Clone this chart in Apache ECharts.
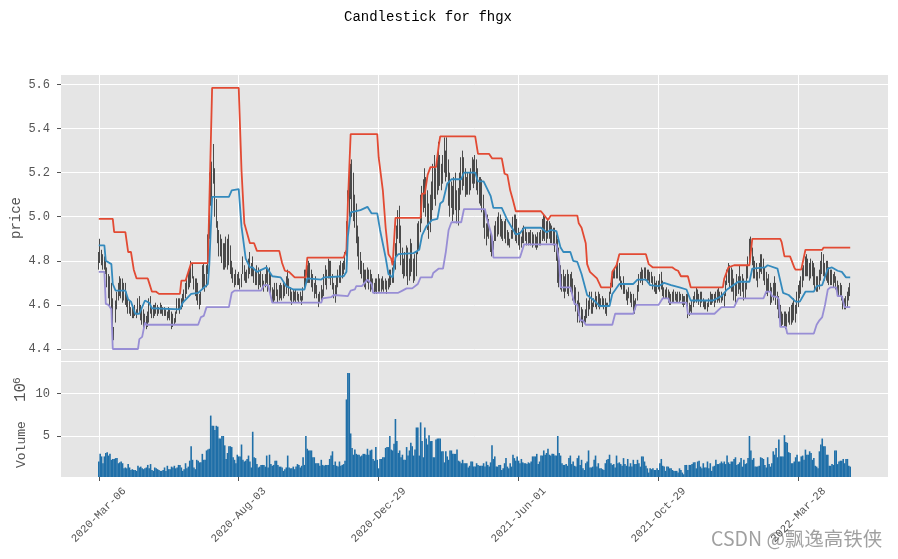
<!DOCTYPE html>
<html>
<head>
<meta charset="utf-8">
<style>html,body{margin:0;padding:0;background:#fff}#chart{width:898px;height:559px}</style>
<script src="https://cdn.jsdelivr.net/npm/echarts@6/dist/echarts.min.js"></script>
</head>
<body>
<div id="chart"></div>
<script>
// tick labels, one every 100 bars
const tickLabels = ['2020-Mar-06', '2020-Aug-03', '2020-Dec-29', '2021-Jun-01', '2021-Oct-29', '2022-Mar-28']
const priceTicks = [4.4, 4.6, 4.8, 5.0, 5.2, 5.4, 5.6]
const volumeTicks = [5, 10]

// prices in cents, volume in units of 1e5, one entry per bar
const opens = [
  478,485,482,478,480,480,475,470,465,468,458,446,454,462,464,470,467,464,468,464,
  463,461,457,458,457,456,458,456,458,462,459,455,452,453,450,452,454,462,457,458,
  456,459,457,458,457,459,456,458,456,454,458,455,455,451,453,453,458,462,457,461,
  460,463,465,470,468,474,472,476,470,468,468,463,464,461,470,476,468,470,476,492,
  510,522,520,518,505,496,490,484,488,481,480,488,478,490,480,477,472,470,474,470,
  470,470,472,476,476,472,474,474,482,476,475,474,471,476,469,472,469,472,469,472,
  474,475,476,468,465,462,469,465,466,463,468,464,469,465,467,474,470,464,465,462,
  463,466,463,464,462,463,464,470,470,476,472,477,470,472,466,471,465,463,462,467,
  464,466,472,474,474,478,471,472,466,463,466,474,472,478,474,477,480,484,498,506,
  510,522,516,506,502,494,490,476,478,472,474,469,475,469,474,470,470,467,470,467,
  468,470,468,471,468,470,467,470,470,475,472,472,480,486,492,502,490,484,476,482,
  475,483,473,488,477,479,473,481,485,496,496,510,504,520,506,508,492,507,500,508,
  512,520,512,516,526,515,526,522,528,520,524,502,514,502,516,505,510,498,505,524,
  528,516,520,512,518,512,520,517,525,517,524,512,516,507,515,498,500,490,499,492,
  492,484,487,491,496,492,499,493,497,491,496,490,492,488,489,491,498,494,499,490,
  489,491,488,493,490,493,489,491,489,493,487,490,488,490,487,491,488,497,491,498,
  490,497,491,495,489,493,486,490,484,480,476,468,474,465,472,466,472,467,473,466,
  467,460,460,457,460,453,456,453,456,455,458,460,464,457,462,460,463,461,464,460,
  460,462,458,459,460,463,467,469,473,475,474,477,473,471,468,471,467,463,465,464,
  465,460,464,458,460,464,472,471,476,470,475,473,474,472,473,471,472,467,469,466,
  468,470,473,466,467,464,467,463,465,462,465,463,465,462,464,465,463,464,460,463,
  461,464,457,460,458,462,463,467,463,464,461,465,462,459,461,458,462,461,464,462,
  461,465,463,466,462,465,463,461,469,471,477,469,475,474,469,463,466,471,469,472,
  472,464,469,469,474,481,488,480,476,478,473,474,474,481,476,479,471,473,466,472,
  468,462,468,466,468,460,462,457,451,454,452,455,451,455,453,458,453,460,454,458,
  461,469,467,475,473,480,475,480,473,479,475,477,469,471,468,474,473,481,475,478,
  473,478,471,475,470,473,471,471,466,468,465,468,460,462,459,464,464,469
]
const closes = [
  480,482,479,480,477,475,470,465,462,456,448,449,459,465,469,466,465,468,464,462,
  460,457,459,456,455,458,456,457,462,458,455,452,451,450,452,456,461,458,456,456,
  458,457,459,457,460,457,458,456,457,456,456,456,451,454,452,456,462,459,461,459,
  464,465,469,467,474,471,477,473,467,466,463,465,460,465,476,470,472,476,490,516,
  528,505,525,503,497,490,484,490,481,483,487,479,486,481,476,473,474,473,470,473,
  474,468,469,481,472,474,471,480,476,474,480,471,474,470,474,470,474,469,471,469,
  476,468,471,465,462,466,464,469,462,468,464,468,464,468,472,469,466,466,462,466,
  465,462,465,462,465,461,467,475,475,471,478,472,475,467,469,467,463,461,465,464,
  466,472,477,470,480,473,478,468,464,468,472,470,477,473,478,482,478,496,510,522,
  520,504,500,497,490,485,478,482,474,477,469,474,471,474,468,473,468,470,467,471,
  472,467,471,468,471,468,470,468,475,470,476,478,486,494,501,492,480,476,480,476,
  485,471,479,475,485,472,481,475,495,488,508,500,515,506,516,496,504,496,514,520,
  524,507,524,526,516,522,517,534,518,532,507,518,506,512,503,518,499,511,518,512,
  515,525,511,516,512,518,514,525,515,526,514,520,508,515,504,506,492,495,493,497,
  486,490,494,495,491,498,494,499,492,496,491,497,489,492,487,493,492,500,491,496,
  493,487,491,489,494,490,492,488,492,488,491,488,491,486,492,488,493,490,499,491,
  496,491,496,490,494,488,492,482,472,470,469,473,467,471,467,474,466,473,467,470,
  462,465,454,463,454,458,452,457,454,462,461,465,458,460,460,464,459,465,459,462,
  463,459,462,457,460,465,469,472,475,473,477,473,478,469,470,467,465,466,462,467,
  461,464,458,461,462,468,468,474,471,475,473,476,471,475,470,474,468,471,466,470,
  470,473,468,469,464,466,464,465,461,464,462,466,463,464,462,462,464,461,463,461,
  464,456,460,458,461,460,465,463,466,461,465,462,459,461,458,460,460,465,461,464,
  464,462,467,462,465,462,468,469,466,475,471,476,467,467,463,469,473,466,477,466,
  467,470,464,476,480,488,484,484,479,473,477,470,478,477,481,473,475,466,471,468,
  462,467,463,472,461,464,455,453,455,452,456,450,456,453,458,452,459,454,459,464,
  467,465,473,470,477,475,482,474,478,473,479,471,475,467,473,469,479,476,481,472,
  478,472,476,470,474,469,474,467,470,465,469,463,462,459,463,460,468,466
]
const lows = [
  476,479,478,476,476,474,468,463,459,453,447,444,452,458,462,464,463,461,462,460,
  459,456,456,455,454,454,455,454,456,456,453,451,449,450,449,450,452,456,454,454,
  455,456,455,456,456,456,455,455,455,453,454,453,449,450,451,452,456,458,456,458,
  459,461,463,465,467,468,470,472,467,464,462,460,458,460,467,468,466,468,474,490,
  505,500,515,500,495,488,482,482,479,476,476,477,476,478,474,472,470,468,469,469,
  469,467,468,474,471,470,470,472,474,473,473,470,469,469,467,469,468,468,466,468,
  470,466,469,464,461,461,462,464,461,462,463,462,463,464,465,468,464,462,460,461,
  462,461,462,461,462,460,462,468,468,470,470,470,468,466,463,465,463,459,461,462,
  463,464,469,467,472,472,469,467,463,461,464,468,470,470,472,474,476,482,495,500,
  508,500,498,495,488,482,476,474,472,470,468,467,470,467,466,467,466,465,466,465,
  466,466,466,467,466,467,465,467,468,469,470,470,476,482,490,488,478,474,472,473,
  473,469,471,473,475,470,471,473,483,485,493,497,502,504,500,494,490,493,498,503,
  508,505,510,512,514,512,515,520,516,518,505,500,504,498,501,503,497,496,503,510,
  512,514,509,510,510,510,512,515,513,515,512,510,506,505,502,495,490,487,491,490,
  484,482,485,489,489,491,492,491,490,489,490,488,487,487,486,490,490,492,489,488,
  487,485,486,488,488,489,487,487,488,487,486,487,486,485,486,487,487,489,490,489,
  488,490,490,488,488,487,484,480,470,468,467,466,466,463,466,465,464,466,465,462,
  460,457,452,455,452,452,450,452,452,454,455,458,456,456,459,459,458,459,458,459,
  459,458,456,455,459,461,465,468,472,472,472,472,471,468,467,465,465,462,460,463,
  461,459,457,456,458,462,466,470,471,469,472,471,470,471,469,470,467,466,465,465,
  467,466,467,464,463,463,463,461,460,460,461,461,462,461,461,461,462,460,459,460,
  460,454,455,457,456,459,461,461,462,460,459,461,459,458,458,457,459,460,460,461,
  459,461,461,462,461,461,462,459,464,469,470,468,466,466,462,461,464,465,467,464,
  466,462,463,467,472,479,482,478,472,472,471,468,472,475,474,471,469,465,464,466,
  460,461,462,464,460,458,454,452,450,451,450,449,450,452,451,451,452,453,452,456,
  459,463,465,468,471,473,473,473,471,472,473,469,467,466,466,467,471,474,473,471,
  471,470,469,469,469,468,470,467,465,464,464,462,458,458,458,459,462,464
]
const highs = [
  484,490,485,483,482,483,477,474,473,470,463,450,462,466,470,473,472,472,470,470,
  466,464,462,459,459,459,460,458,463,464,460,458,458,456,455,457,463,464,459,460,
  460,461,460,459,461,460,459,459,458,457,459,458,457,456,454,457,463,463,463,463,
  465,467,470,472,476,477,480,479,473,472,472,470,465,466,478,479,474,478,492,520,
  535,525,533,522,508,498,494,492,490,488,488,491,490,492,487,480,477,474,476,474,
  475,472,474,482,478,475,476,481,484,479,482,477,476,478,477,474,476,474,471,474,
  478,476,477,474,468,467,470,470,467,469,470,469,470,469,473,476,472,468,466,467,
  466,467,466,465,466,464,468,476,476,478,480,479,476,474,470,473,469,465,466,469,
  467,474,478,476,481,480,480,474,470,469,473,476,478,480,479,480,484,498,512,527,
  524,526,520,510,506,496,491,484,480,479,476,476,477,476,476,474,472,470,472,472,
  474,472,472,473,471,472,471,472,476,476,477,480,488,496,503,505,496,486,481,484,
  487,486,481,490,488,481,483,484,497,498,510,514,517,522,518,512,506,510,516,524,
  528,522,526,534,528,524,528,536,530,536,526,520,516,514,518,520,512,513,520,527,
  530,527,522,518,520,520,522,527,526,528,526,522,518,518,517,510,503,497,501,499,
  494,492,489,496,498,500,502,501,499,498,498,499,494,493,490,494,500,501,501,499,
  495,493,491,495,496,495,493,493,493,494,493,492,492,491,493,493,494,499,501,500,
  498,499,498,497,496,495,495,492,490,486,478,474,476,473,474,476,474,474,475,472,
  469,468,462,466,461,459,458,455,458,463,462,466,466,461,463,466,464,466,465,463,
  464,463,463,461,461,466,470,473,476,477,478,479,479,473,471,473,469,467,466,468,
  466,465,465,462,463,469,474,475,477,476,477,477,476,476,475,475,473,473,470,471,
  471,474,475,471,468,467,468,467,466,465,466,467,466,465,466,466,465,465,464,464,
  465,465,461,460,462,464,466,468,467,465,466,466,463,462,462,461,463,466,465,465,
  465,466,467,468,466,466,465,465,471,476,479,478,477,476,472,470,474,473,478,473,
  474,472,470,478,482,490,491,486,482,480,479,475,479,483,483,481,477,475,472,474,
  470,468,470,473,470,466,464,460,457,456,457,457,456,457,459,460,461,463,460,466,
  469,471,473,477,478,482,483,481,479,481,480,479,477,473,473,476,480,484,483,479,
  480,480,477,476,476,474,475,473,471,469,470,469,464,463,464,466,468,470
]
const volumes = [
  20,29,26,18,26,30,31,27,29,22,23,23,24,24,18,19,20,18,12,13,
  12,17,13,10,11,10,10,9,15,13,14,12,11,12,13,16,12,17,10,9,
  13,12,11,10,9,9,10,13,9,15,11,11,14,13,15,12,13,16,16,13,
  9,11,18,12,14,21,38,22,13,11,22,21,19,19,29,22,22,33,34,35,
  74,62,62,57,62,61,47,47,50,50,39,23,30,38,38,37,25,22,18,28,
  26,26,40,22,20,21,23,27,20,13,55,25,24,17,13,14,16,16,16,14,
  27,13,28,17,15,16,21,21,16,14,14,13,9,11,13,27,13,12,12,14,
  11,14,17,16,13,15,25,16,50,35,33,33,33,25,25,18,18,18,15,22,
  16,15,16,16,16,23,27,32,16,20,15,14,20,15,16,17,21,93,124,124,
  53,36,28,34,29,28,28,26,27,29,29,28,35,28,33,34,23,21,37,22,
  12,23,23,25,25,36,37,37,50,34,33,41,70,44,30,33,25,28,22,22,
  37,27,33,42,38,27,34,60,60,27,66,44,25,60,47,40,51,44,44,25,
  25,46,47,47,47,32,32,19,32,26,22,33,33,29,29,29,34,21,20,18,
  22,18,18,18,13,15,20,20,14,14,18,16,15,15,15,18,14,20,16,14,
  19,39,23,26,14,14,16,16,10,12,18,24,14,12,18,14,28,24,21,26,
  21,18,23,19,18,18,17,19,18,20,26,26,26,29,17,20,27,27,33,28,
  30,35,28,27,29,29,27,27,50,30,27,18,16,16,17,15,24,27,17,20,
  15,14,24,27,16,22,12,10,18,20,33,13,13,14,22,27,14,18,12,12,
  11,10,18,22,23,28,18,16,17,13,27,18,19,17,15,24,17,15,23,14,
  18,14,22,17,17,22,18,14,26,26,20,15,12,7,12,11,12,10,10,12,
  10,18,23,15,14,9,14,14,12,12,10,9,9,9,7,12,10,7,5,16,
  16,10,16,16,17,19,19,12,20,21,14,12,18,13,13,20,12,18,9,14,
  15,22,17,17,18,20,18,20,17,27,19,17,20,20,23,25,16,17,19,24,
  14,22,17,18,24,50,33,22,24,14,14,14,15,25,24,23,16,13,25,17,
  14,18,32,28,36,25,46,26,26,26,51,43,42,31,30,18,18,20,25,28,
  20,20,26,27,22,34,28,28,32,30,22,24,15,14,12,32,40,47,38,38,
  28,28,15,15,17,16,33,33,17,20,21,21,23,18,23,23,15,14
]

// the three bands, as [bar, price] at each bend
const upperBand = [[0,4.99],[10,4.99],[11,4.93],[19,4.93],[21,4.84],[23,4.84],[25,4.76],[27,4.72],[35,4.72],[36,4.70],[38,4.66],[41,4.66],[43,4.65],[58,4.65],[59,4.71],[62,4.71],[64,4.75],[66,4.79],[78,4.79],[79,5.06],[81,5.585],[100,5.585],[102,5.21],[104,4.97],[108,4.88],[111,4.88],[113,4.845],[129,4.845],[131,4.79],[133,4.755],[136,4.75],[140,4.725],[148,4.725],[149,4.815],[175,4.815],[177,4.85],[178,5.06],[180,5.375],[199,5.375],[200,5.27],[201,5.27],[203,5.12],[205,4.95],[207,4.83],[209,4.81],[210,4.78],[212,4.995],[230,4.995],[231,5.105],[233,5.105],[235,5.19],[237,5.225],[241,5.225],[243,5.325],[244,5.365],[269,5.365],[271,5.285],[279,5.285],[281,5.265],[288,5.265],[290,5.195],[292,5.19],[294,5.12],[296,5.075],[298,5.025],[316,5.025],[321,4.985],[323,5.005],[342,5.005],[343,4.97],[345,4.95],[348,4.88],[349,4.785],[351,4.75],[356,4.72],[359,4.68],[366,4.68],[367,4.75],[370,4.78],[372,4.83],[391,4.83],[393,4.785],[396,4.77],[410,4.77],[412,4.76],[414,4.755],[416,4.73],[421,4.73],[423,4.68],[446,4.68],[447,4.72],[450,4.77],[454,4.78],[465,4.78],[467,4.90],[487,4.90],[488,4.885],[490,4.82],[494,4.82],[497,4.77],[498,4.76],[502,4.76],[505,4.85],[517,4.85],[518,4.86],[537,4.86]]
const middleBand = [[0,4.87],[4,4.87],[5,4.80],[9,4.785],[10,4.695],[12,4.665],[19,4.665],[21,4.625],[23,4.615],[26,4.56],[29,4.56],[33,4.62],[36,4.61],[38,4.585],[58,4.58],[60,4.61],[66,4.65],[71,4.655],[78,4.695],[79,4.785],[81,5.09],[93,5.09],[95,5.12],[100,5.125],[102,4.955],[105,4.81],[108,4.77],[110,4.77],[113,4.75],[120,4.77],[124,4.73],[130,4.725],[134,4.685],[139,4.67],[147,4.67],[149,4.72],[159,4.715],[161,4.725],[175,4.73],[177,4.75],[178,4.91],[180,5.02],[187,5.03],[192,5.045],[195,5.015],[199,5.015],[201,4.94],[205,4.815],[207,4.74],[210,4.725],[212,4.815],[214,4.83],[225,4.835],[229,4.85],[231,4.915],[234,4.955],[238,4.985],[242,4.99],[244,5.06],[246,5.07],[249,5.15],[252,5.17],[259,5.17],[261,5.20],[269,5.20],[271,5.16],[275,5.16],[280,5.095],[282,5.04],[288,5.04],[292,4.985],[298,4.92],[301,4.925],[304,4.95],[316,4.95],[320,4.93],[323,4.94],[327,4.935],[330,4.86],[332,4.84],[337,4.84],[339,4.80],[342,4.795],[345,4.74],[349,4.645],[354,4.62],[358,4.595],[365,4.595],[367,4.65],[372,4.695],[382,4.695],[385,4.715],[391,4.715],[394,4.69],[400,4.685],[404,4.70],[409,4.69],[415,4.68],[420,4.67],[423,4.62],[439,4.62],[445,4.64],[449,4.67],[457,4.705],[465,4.705],[467,4.765],[476,4.77],[478,4.78],[485,4.765],[487,4.71],[489,4.655],[493,4.645],[498,4.615],[501,4.615],[505,4.66],[511,4.66],[513,4.685],[517,4.69],[521,4.765],[524,4.77],[528,4.755],[531,4.75],[534,4.725],[537,4.725]]
const lowerBand = [[0,4.75],[4,4.75],[5,4.605],[7,4.60],[9,4.58],[10,4.40],[28,4.40],[29,4.445],[31,4.455],[33,4.52],[34,4.51],[71,4.51],[73,4.545],[75,4.55],[77,4.59],[93,4.59],[95,4.655],[97,4.665],[116,4.665],[118,4.69],[121,4.69],[124,4.61],[159,4.61],[160,4.63],[166,4.635],[168,4.645],[178,4.64],[180,4.665],[183,4.67],[184,4.685],[188,4.685],[192,4.715],[195,4.695],[196,4.655],[214,4.655],[217,4.665],[220,4.675],[224,4.675],[228,4.695],[230,4.725],[238,4.725],[239,4.745],[243,4.765],[246,4.765],[248,4.84],[250,4.94],[252,4.975],[259,4.975],[261,5.035],[276,5.035],[277,5.0],[281,4.91],[282,4.815],[301,4.815],[304,4.875],[327,4.875],[329,4.80],[330,4.68],[337,4.68],[340,4.605],[342,4.60],[344,4.53],[346,4.53],[348,4.51],[367,4.51],[369,4.56],[382,4.56],[384,4.60],[400,4.60],[403,4.63],[407,4.63],[408,4.61],[420,4.61],[421,4.56],[440,4.56],[445,4.59],[454,4.59],[457,4.63],[475,4.63],[477,4.66],[480,4.66],[481,4.64],[485,4.635],[486,4.625],[487,4.50],[491,4.50],[492,4.47],[511,4.47],[513,4.51],[515,4.53],[517,4.545],[519,4.60],[521,4.67],[523,4.68],[527,4.68],[528,4.64],[531,4.64],[533,4.59],[537,4.59]]

const candles = opens.map((o, i) => [i, o / 100, closes[i] / 100, lows[i] / 100, highs[i] / 100])
const volumeBars = volumes.map((v, i) => [i, v / 10])

const textColor = '#555555'
const monoFont = '"Liberation Mono", monospace'

function bandLine(data, color) {
  return {
    type: 'line',
    data: data,
    xAxisIndex: 0,
    yAxisIndex: 0,
    showSymbol: false,
    silent: true,
    z: 3,
    lineStyle: { color: color, width: 1.8 }
  }
}

function gridXAxis(gridIndex, showLabels) {
  return {
    type: 'value',
    gridIndex: gridIndex,
    min: -27,
    max: 564,
    axisLine: { show: false, onZero: false },
    axisTick: { show: showLabels, length: 4, lineStyle: { color: textColor }, customValues: [0, 100, 200, 300, 400, 500] },
    splitLine: { show: true, lineStyle: { color: '#fff', width: 1 } },
    axisLabel: {
      show: showLabels,
      customValues: [0, 100, 200, 300, 400, 500],
      formatter: v => tickLabels[v / 100],
      rotate: 45,
      align: 'center',
      verticalAlign: 'middle',
      margin: 38,
      color: textColor,
      fontFamily: monoFont,
      fontSize: 11
    }
  }
}

function gridYAxis(gridIndex, min, max, ticks, digits) {
  return {
    type: 'value',
    gridIndex: gridIndex,
    min: min,
    max: max,
    axisLine: { show: false, onZero: false },
    axisTick: { show: true, length: 4, lineStyle: { color: textColor }, customValues: ticks },
    splitLine: { show: true, lineStyle: { color: '#fff', width: 1 } },
    axisLabel: {
      customValues: ticks,
      formatter: v => v.toFixed(digits),
      margin: 11,
      color: textColor,
      fontFamily: monoFont,
      fontSize: 12
    }
  }
}

const chart = echarts.init(document.getElementById('chart'), null, { renderer: 'canvas' })

const priceAxis = gridYAxis(0, 4.3456, 5.643, priceTicks, 1)
priceAxis.name = 'price'
priceAxis.nameLocation = 'middle'
priceAxis.nameGap = 38
priceAxis.nameMoveOverlap = false
priceAxis.nameTextStyle = { color: textColor, fontFamily: monoFont, fontSize: 14 }

chart.setOption({
  animation: false,
  backgroundColor: '#fff',
  title: {
    text: 'Candlestick for fhgx',
    left: 423,
    top: 5,
    textAlign: 'center',
    textStyle: { color: '#000', fontFamily: monoFont, fontSize: 14, fontWeight: 'normal' }
  },
  grid: [
    { left: 61, top: 75, width: 827, height: 286, show: true, backgroundColor: '#E5E5E5', borderWidth: 0, outerBoundsMode: 'none' },
    { left: 61, top: 362, width: 827, height: 115, show: true, backgroundColor: '#E5E5E5', borderWidth: 0, outerBoundsMode: 'none' }
  ],
  xAxis: [gridXAxis(0, false), gridXAxis(1, true)],
  yAxis: [priceAxis, gridYAxis(1, 0.18, 13.7, volumeTicks, 0)],
  series: [
    {
      type: 'candlestick',
      data: candles,
      xAxisIndex: 0,
      yAxisIndex: 0,
      barWidth: 1,
      silent: true,
      z: 2,
      itemStyle: { color: '#333', color0: '#333', borderColor: '#4a4a4a', borderColor0: '#4a4a4a', borderWidth: 1 }
    },
    bandLine(upperBand, '#E24A33'),
    bandLine(middleBand, '#348ABD'),
    bandLine(lowerBand, '#988ED5'),
    {
      type: 'bar',
      data: volumeBars,
      xAxisIndex: 1,
      yAxisIndex: 1,
      barWidth: 1.6,
      silent: true,
      itemStyle: { color: '#1f6fa8' }
    }
  ],
  graphic: [
    { type: 'text', rotation: Math.PI / 2, x: 15, y: 468, style: { text: 'Volume', fill: textColor, font: '13px ' + monoFont, textAlign: 'left', textVerticalAlign: 'top' } },
    { type: 'text', rotation: Math.PI / 2, x: 13, y: 402, style: { text: '10', fill: textColor, font: '16px ' + monoFont, textAlign: 'left', textVerticalAlign: 'top' } },
    { type: 'text', rotation: Math.PI / 2, x: 12, y: 384, style: { text: '6', fill: textColor, font: '11px ' + monoFont, textAlign: 'left', textVerticalAlign: 'top' } },
    { type: 'text', left: 711, top: 529, style: { text: 'CSDN @飘逸高铁侠', fill: 'rgba(120,120,120,0.7)', font: '19.5px "Noto Sans CJK SC", "Noto Sans", sans-serif' } }
  ]
})
</script>
</body>
</html>
